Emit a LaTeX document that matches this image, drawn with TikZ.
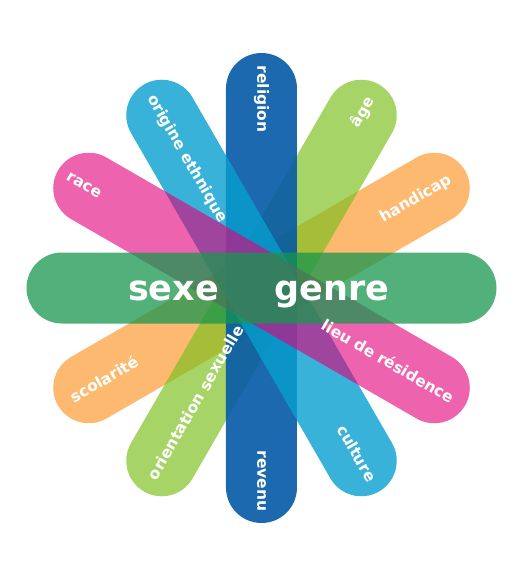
\documentclass[tikz,border=0pt]{standalone}
\usepackage{fontspec}
\setmainfont{DejaVu Sans}
\usetikzlibrary{positioning}

\definecolor{sexeGreen}{RGB}{24,150,78}
\definecolor{relBlue}{RGB}{4,89,167}
\definecolor{origCyan}{RGB}{6,159,206}
\definecolor{racePink}{RGB}{227,0,122}
\definecolor{ageGreen}{RGB}{124,192,31}
\definecolor{handOrange}{RGB}{253,173,86}

\tikzset{
  bar/.style={fill=#1, rounded corners=35.5pt},
  lbl/.style={text=white, font=\fontsize{15.5}{18}\selectfont\bfseries, inner sep=0pt},
  big/.style={text=white, font=\fontsize{35}{40}\selectfont\bfseries, inner sep=0pt}
}

\begin{document}
\begin{tikzpicture}[x=1pt,y=1pt]
\useasboundingbox (-261.5,-288) rectangle (257.5,288);
% bars, from the lowest to the top one
\foreach \ang/\col/\op in {30/handOrange/0.85,60/ageGreen/0.68,90/relBlue/0.9,
                          -60/origCyan/0.8,-30/racePink/0.61,0/sexeGreen/0.75}
  \fill[bar=\col, fill opacity=\op, rotate=\ang] (-235,-35.5) rectangle (235,35.5);

\node[lbl, rotate=-90] (religion) at (90:189) {religion};
\node[lbl, rotate=-90] (revenu) at (-90:193) {revenu};
\node[lbl, rotate=-60] (origine) at (120:149) {origine ethnique};
\node[lbl, rotate=-60] (culture) at (-60:191) {culture};
\node[lbl, rotate=-30] (race) at (150:205) {race};
\node[lbl, rotate=-30] (lieu) at (-30:146) {lieu de résidence};
\node[lbl, rotate=60] (age) at (60:203) {âge};
\node[lbl, rotate=60] (orientation) at (240:132) {orientation sexuelle};
\node[lbl, rotate=30] (handicap) at (30:178) {handicap};
\node[lbl, rotate=30] (scolarite) at (210:182) {scolarité};

\node[big, anchor=base] (sexe) at (-88,-12) {sexe};
\node[big, anchor=base] (genre) at (70.5,-12) {genre};
\end{tikzpicture}
\end{document}
